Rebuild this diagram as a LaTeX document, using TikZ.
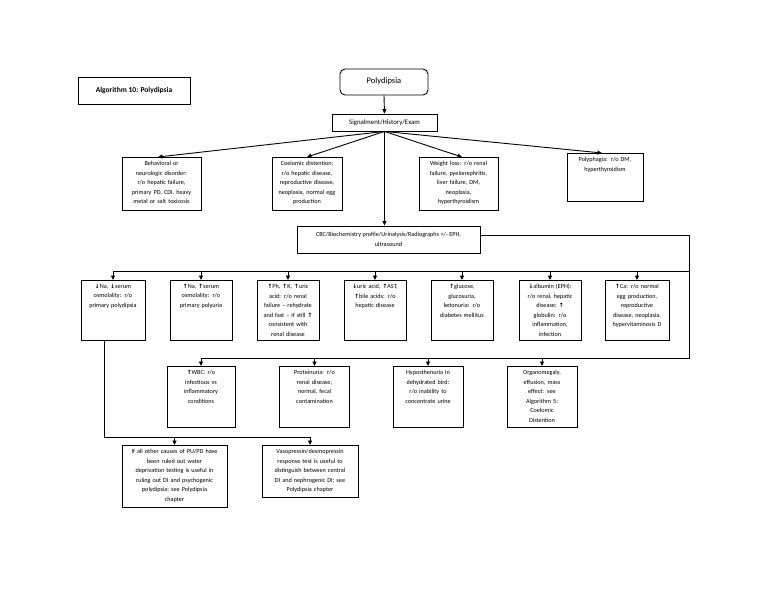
\documentclass[tikz,border=0pt]{standalone}
\usepackage{fontspec}
\setmainfont{Carlito}
\newfontfamily\arrf{DejaVu Sans}
\usetikzlibrary{arrows.meta}
\newcommand\up{{\arrf\bfseries\fontsize{5.8}{9}\selectfont ↑}}
\newcommand\dn{{\arrf\bfseries\fontsize{5.8}{9}\selectfont ↓}}
\newcommand\mybox[6]{%
  \node[boxst, minimum width=#4pt, minimum height=#5pt, anchor=north] (#1) at (#2,#3) {};
  \node[txtst, text width=#4pt, anchor=north] (#1t) at ([yshift=-4pt]#1.north) {#6};
}
\begin{document}
\begin{tikzpicture}[x=1pt,y=-1pt,
  boxst/.style={draw, line width=0.9pt, inner sep=0pt},
  txtst/.style={align=center, inner sep=0pt, font=\fontsize{6.2}{9.5}\selectfont},
  conn/.style={line width=0.9pt},
  arr/.style={line width=0.9pt, -{Triangle[length=4.5pt,width=4pt]}}]
\useasboundingbox (0,0) rectangle (768,594);
% title
\node[draw, line width=0.9pt, minimum width=112pt, minimum height=27pt, font=\bfseries\fontsize{7.5}{9}\selectfont] (title) at (134,90.5) {Algorithm 10: Polydipsia};
% top
\node[draw, line width=0.9pt, rounded corners=5pt, minimum width=88pt, minimum height=26pt, font=\fontsize{8.5}{10}\selectfont] (poly) at (384,82) {\raisebox{3pt}{Polydipsia}};
\node[draw, line width=0.9pt, minimum width=105pt, minimum height=17pt, font=\fontsize{6.8}{9}\selectfont] (sig) at (384.5,122.5) {Signalment/History/Exam};
% row 1
\mybox{r1a}{161.5}{157}{79}{53}{Behavioral or\\neurologic disorder:\\r/o hepatic failure,\\primary PD, CDI, heavy\\metal or salt toxicosis}
\mybox{r1b}{307}{157}{70}{53}{Coelomic distention:\\r/o hepatic disease,\\reproductive disease,\\neoplasia, normal egg\\production}
\mybox{r1c}{458.5}{157}{79}{53}{Weight loss: r/o renal\\failure, pyelonephritis,\\liver failure, DM,\\neoplasia,\\hyperthyroidism}
\mybox{r1d}{605}{153}{76}{48}{Polyphagia: r/o DM,\\hyperthyroidism}
% CBC
\node[draw, line width=0.9pt, minimum width=183pt, minimum height=27pt, align=center, font=\fontsize{6.2}{9.5}\selectfont] (cbc) at (388.5,239.5) {CBC/Biochemistry profile/Urinalysis/Radiographs +/- EPH,\\ultrasound};
% row 2
\mybox{r2a}{113}{280}{64}{60}{\dn Na, \dn serum\\osmolality: r/o\\primary polydipsia}
\mybox{r2b}{201}{280}{62}{60}{\up Na, \up serum\\osmolality: r/o\\primary polyuria}
\mybox{r2c}{288}{280}{62}{60}{\up Ph, \up K, \up uric\\acid: r/o renal\\failure -- rehydrate\\and fast -- if still \up\\consistent with\\renal disease}
\mybox{r2d}{375}{280}{62}{60}{\dn uric acid, \up AST,\\\up bile acids: r/o\\hepatic disease}
\mybox{r2e}{462}{280}{62}{60}{\up glucose,\\glucosuria,\\ketonuria: r/o\\diabetes mellitus}
\mybox{r2f}{550}{280}{62}{60}{\dn albumin (EPH):\\r/o renal, hepatic\\disease; \up\\globulin: r/o\\inflammation,\\infection}
\mybox{r2g}{637}{280}{64}{60}{\up Ca: r/o normal\\egg production,\\reproductive\\disease, neoplasia,\\hypervitaminosis D}
% row 3
\mybox{r3a}{201}{366}{68}{61}{\up WBC: r/o\\infectious vs\\inflammatory\\conditions}
\mybox{r3b}{314.5}{366}{70}{61}{Proteinuria: r/o\\renal disease,\\normal, fecal\\contamination}
\mybox{r3c}{428}{366}{70}{61}{Hyposthenuria in\\dehydrated bird:\\r/o inability to\\concentrate urine}
\mybox{r3d}{542}{366}{70}{61}{Organomegaly,\\effusion, mass\\effect: see\\Algorithm 5:\\Coelomic\\Distention}
% bottom
\mybox{r4a}{174.5}{445}{105}{62}{If all other causes of PU/PD have\\been ruled out water\\deprivation testing is useful in\\ruling out DI and psychogenic\\polydipsia; see Polydipsia\\chapter}
\mybox{r4b}{310}{445}{96}{52}{Vasopressin/desmopressin\\response test is useful to\\distinguish between central\\DI and nephrogenic DI; see\\Polydipsia chapter}
% coordinates
\coordinate (rc) at (689,235);
\coordinate (r2L) at (113,271);
\coordinate (r2R) at (689,271);
\coordinate (r3L) at (201,358);
\coordinate (r3R) at (689,358);
\coordinate (r4top) at (104,437);
\coordinate (r4R) at (310,437);
% connectors
\draw[arr] (poly.south) -- (sig.north);
\draw[arr] (sig.south) -- ([xshift=-3.5pt]r1a.north);
\draw[arr] (sig.south) -- (r1b.north);
\draw[arr] (sig.south) -- ([xshift=3.5pt]r1c.north);
\draw[arr] (sig.south) -- ([xshift=-3pt]r1d.north);
\draw[arr] (sig.south) -- (sig.south |- cbc.north);
\draw[conn] (cbc.east |- rc) -- (rc) -- (r3R) -- (r3L);
\draw[conn] (r2L) -- (r2R);
\foreach \n in {r2a,r2b,r2c,r2d,r2e,r2f,r2g}
  \draw[arr] (\n.north |- r2L) -- (\n.north);
\foreach \n in {r3a,r3b,r3c,r3d}
  \draw[arr] (\n.north |- r3L) -- (\n.north);
\draw[conn] ([xshift=-9pt]r2a.south) -- (r4top) -- (r4R);
\foreach \n in {r4a,r4b}
  \draw[arr] (\n.north |- r4top) -- (\n.north);
\end{tikzpicture}
\end{document}
